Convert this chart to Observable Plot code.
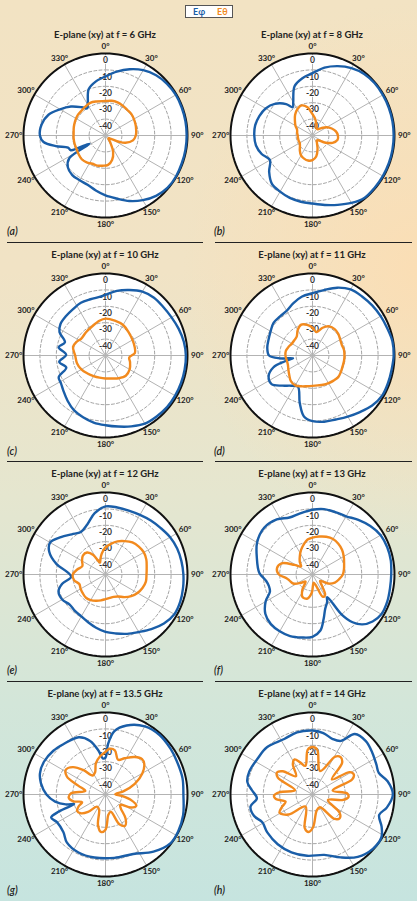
<!DOCTYPE html>
<html><head><meta charset="utf-8">
<script src="https://cdn.jsdelivr.net/npm/d3@7"></script>
<script src="https://cdn.jsdelivr.net/npm/@observablehq/plot@0.6"></script>
<style>
html,body{margin:0;padding:0;}
#page{position:relative;width:417px;height:901px;overflow:hidden;font-family:Lato,"Open Sans",sans-serif;color:#222;
background:
 radial-gradient(ellipse 75% 40% at 100% 30%, rgba(252,221,178,0.85), rgba(252,221,178,0) 75%),
 linear-gradient(180deg,#f2e3c3 0%,#f1e3c5 30%,#e5e6cf 55%,#d3e6d9 78%,#c6e4df 100%);}
.panel{position:absolute;width:210px;height:220px;}
.title{position:absolute;left:0;width:210px;top:7px;line-height:12px;text-align:center;font-weight:700;font-size:9.5px;}
.plot{position:absolute;left:0;top:8px;}
.tag{position:absolute;left:7px;top:203px;line-height:13px;font-style:italic;font-size:10.5px;font-weight:600;}
.sep{position:absolute;height:0;border-top:1px solid #222;}
#legend{position:absolute;left:185px;top:5px;width:46px;height:11px;background:#fff;border:1px solid #555;font-weight:700;font-size:9px;line-height:11px;}
</style></head>
<body><div id="page"><div id="legend"><span style="position:absolute;left:7px;color:#1a5ea8">Eφ</span><span style="position:absolute;left:31px;color:#f28a1e">Eθ</span></div></div>
<script>
// ---- data: [angle in degrees, level in dB] ----
const ePhi6 = [[0,-14],[10,-10.5],[20,-7],[30,-4],[40,-2],[50,-1],[60,-0.5],[70,-0.5],[80,-0.5],[90,-0.5],[100,-0.5],[110,-0.5],[120,-0.3],[130,-0.5],[140,-2],[150,-4.5],[160,-7.5],[170,-11],[180,-13.5],[190,-16],[200,-18],[210,-18.5],[220,-18.5],[230,-20],[238,-24],[243,-39],[247,-27],[252,-26],[258,-19],[264,-12],[270,-10],[280,-10.5],[290,-13],[300,-18],[310,-22.5],[320,-27.5],[326,-30],[332,-27],[340,-20],[350,-16.5]];
const eTheta6 = [[0,-29],[10,-28.5],[20,-28.5],[30,-29],[40,-29.5],[50,-29.5],[60,-30],[70,-30.5],[80,-31],[90,-31.5],[100,-33],[110,-37],[115,-41],[125,-47],[135,-47.5],[145,-45],[155,-39],[165,-34.5],[175,-32],[185,-31.5],[195,-31],[205,-31],[215,-30],[225,-29.5],[235,-30],[245,-30.5],[255,-30.5],[265,-30.5],[275,-30.5],[285,-30],[295,-29.5],[305,-29],[315,-29],[325,-28.5],[335,-28],[345,-28.5]];
const ePhi8 = [[0,-12],[10,-8],[20,-5],[30,-2.5],[40,-1],[50,-0.5],[60,-0.5],[70,-0.5],[80,-0.5],[90,-0.5],[100,-0.5],[110,-0.5],[120,-0.5],[130,-0.5],[140,-0.5],[150,-2.5],[160,-5],[170,-7],[180,-8.5],[190,-9],[200,-9.5],[210,-10.5],[220,-11.5],[230,-15.5],[240,-20],[250,-17],[260,-15],[270,-14.5],[280,-14.5],[290,-15.5],[300,-17],[310,-20],[320,-25],[325,-29],[330,-26.5],[340,-18],[350,-14.5]];
const eTheta8 = [[0,-37],[10,-40],[20,-43],[30,-45],[40,-45],[50,-43],[60,-40],[70,-37.5],[80,-35.5],[90,-34.5],[100,-34.5],[110,-37],[120,-41.5],[130,-45.5],[140,-46],[150,-44.5],[160,-41],[170,-37],[180,-35],[190,-34.5],[200,-35],[210,-36],[220,-38],[230,-40],[240,-41],[250,-41],[260,-41],[270,-41],[280,-40.5],[290,-40],[300,-38],[310,-36],[320,-33.5],[330,-31.5],[340,-30.5],[350,-32.5]];
const ePhi10 = [[0,-13],[10,-10],[20,-7.5],[30,-5],[40,-4],[50,-4],[60,-3.5],[70,-2.5],[80,-1.5],[90,-1],[100,-1],[110,-1],[120,-1],[130,-1],[140,-1.5],[150,-2],[160,-4],[170,-6],[180,-7.5],[190,-8.5],[200,-10],[210,-11.5],[220,-14],[230,-16.5],[238,-18],[245,-18.5],[253,-25],[262,-21.5],[271,-26],[280,-21],[288,-24],[297,-18.5],[305,-16.5],[315,-16],[325,-15.5],[335,-14.5],[345,-14.5],[355,-14]];
const eTheta10 = [[0,-27.5],[15,-28],[30,-28.5],[45,-30],[60,-31],[75,-31.5],[85,-32],[95,-35.5],[105,-34.5],[120,-33],[135,-32.5],[150,-34],[165,-35.5],[180,-36],[195,-36],[210,-35.5],[225,-34.5],[240,-33],[255,-32],[270,-31.5],[285,-29.5],[295,-30.5],[305,-32],[320,-31.5],[335,-30.5],[350,-28.5]];
const ePhi11 = [[0,-12],[10,-9.5],[20,-6],[30,-3.5],[40,-3],[50,-2.5],[60,-2],[70,-1.5],[80,-0.5],[90,-0.5],[100,-1],[110,-1],[120,-1],[130,-2.5],[140,-5],[150,-7],[160,-8.5],[170,-9],[180,-10],[188,-12.5],[195,-20],[205,-29],[215,-27.5],[225,-24],[235,-19.5],[245,-20.5],[253,-25],[258,-32.5],[262,-38],[265,-30],[270,-23.5],[280,-22],[290,-21.5],[300,-20.5],[310,-19],[320,-19],[330,-18.5],[340,-16],[350,-13.5]];
const eTheta11 = [[0,-33],[10,-35.5],[20,-32],[30,-29.5],[40,-29],[50,-29.5],[60,-30.5],[70,-31],[80,-30.5],[90,-30.5],[100,-30.5],[110,-30.5],[120,-30],[130,-29.5],[140,-30],[150,-30.5],[160,-31],[170,-31.5],[180,-31.5],[190,-31],[200,-30],[210,-29],[220,-29.5],[230,-31.5],[240,-33],[250,-34],[260,-34],[270,-33.5],[280,-33.5],[290,-34.5],[300,-35.5],[310,-35.5],[320,-35],[330,-32],[340,-30],[350,-31]];
const ePhi12 = [[0,-8.5],[10,-8.5],[20,-8.5],[30,-8],[40,-7],[50,-6],[60,-4.5],[70,-3.5],[80,-3],[90,-2.5],[100,-2],[110,-1.5],[120,-1.5],[130,-3.5],[140,-6.5],[150,-9.5],[160,-11.5],[170,-13.5],[180,-15],[190,-17],[200,-19],[210,-20.5],[220,-21],[230,-21.5],[240,-19.5],[250,-19.5],[258,-23],[266,-29],[274,-26.5],[282,-19.5],[292,-13],[300,-11],[310,-14.5],[320,-18],[330,-20],[340,-17.5],[350,-12]];
const eTheta12 = [[0,-33.5],[10,-31],[20,-28.5],[30,-26.5],[40,-24.5],[50,-23.5],[60,-23],[70,-23.5],[80,-24.5],[90,-25],[100,-25],[110,-26],[120,-27.5],[130,-29.5],[140,-32],[150,-34.5],[160,-35.5],[170,-35.5],[180,-35],[190,-34],[200,-33],[210,-32],[220,-31.5],[230,-32],[240,-32.5],[250,-33],[260,-30.5],[270,-30],[280,-32.5],[290,-35],[300,-33.5],[310,-32],[320,-32.5],[328,-36],[335,-42],[342,-40],[350,-37]];
const ePhi13 = [[0,-10.5],[10,-9.5],[20,-9.5],[30,-9],[40,-6.5],[50,-4],[60,-2],[70,-1.5],[80,-1.5],[90,-2],[100,-2],[110,-1.5],[120,-1.5],[128,-3.5],[135,-7],[140,-12],[144,-20],[147,-33.5],[152,-31],[160,-27.5],[166,-22],[172,-15.5],[180,-12],[190,-11],[200,-10],[210,-10],[220,-10.5],[230,-12.5],[240,-17],[248,-22],[255,-22.5],[262,-21.5],[272,-17.5],[287,-14.5],[300,-11],[314,-9],[327,-10],[338,-12.5],[348,-12]];
const eTheta13 = [[0,-27.5],[10,-26.5],[20,-25.5],[30,-25],[40,-25.5],[50,-26.5],[60,-28],[70,-29.5],[80,-30.5],[90,-31.5],[100,-33.5],[110,-35.5],[120,-39],[130,-44],[140,-41],[148,-35.5],[155,-35],[162,-42.5],[172,-45],[182,-39],[192,-35],[204,-35],[214,-39],[225,-44],[235,-41],[245,-37],[255,-35.5],[262,-34],[270,-29.5],[280,-28],[290,-30],[298,-37.5],[305,-41.5],[315,-39],[325,-36.5],[335,-33.5],[345,-30.5],[352,-28.5]];
const ePhi135 = [[0,-27.5],[3,-19],[8,-11],[17,-6],[30,-2],[42,-1],[55,-1.5],[65,-2],[78,-2],[90,-2.5],[105,-1],[117,-0.3],[127,-0.5],[140,-4.5],[155,-10],[172,-11],[190,-11],[205,-11],[219,-12.5],[228,-15.5],[240,-16],[247,-14],[250,-20],[253,-30],[256,-25],[262,-19],[270,-14],[280,-10],[288,-8],[298,-7.5],[310,-8.5],[320,-10],[335,-11.5],[344,-16],[351,-23],[356,-28]];
const eTheta135 = [[0,-24],[5,-22],[12,-22.5],[20,-27.5],[28,-25],[38,-21],[46,-19],[52,-20],[60,-24],[70,-31],[80,-39],[88,-44],[95,-40],[103,-33.5],[110,-30],[117,-32.5],[125,-39],[132,-37.5],[140,-31],[148,-27.5],[155,-30],[163,-39],[172,-37.5],[180,-28.5],[187,-27],[194,-31],[203,-40],[215,-41],[225,-35],[233,-31],[240,-30],[246,-32],[252,-35],[258,-30],[265,-27.5],[272,-29],[280,-37.5],[288,-32.5],[295,-24],[302,-21.5],[310,-24],[318,-30],[326,-36],[335,-35],[343,-30],[352,-26.5]];
const ePhi14 = [[0,-11],[10,-12],[20,-14],[28,-13],[35,-5],[45,-4],[55,-5.5],[65,-7],[72,-7.5],[80,-3.5],[90,-1],[100,-4],[107,-7.5],[115,-3.5],[122,-0.5],[132,-0.5],[144,-3],[156,-8],[169,-12.5],[185,-12.5],[200,-12.5],[215,-13],[230,-14],[241,-15],[250,-12],[259,-11.5],[266,-16],[274,-13],[281,-9.5],[290,-9],[303,-10],[316,-10],[333,-12],[346,-11]];
const eTheta14 = [[0,-21],[6,-22.5],[18,-35],[31,-23],[37,-21.5],[43,-23.5],[52,-35],[59,-23.5],[64,-22],[69,-24],[79,-37.5],[88,-29],[94,-28],[100,-31],[110,-40],[124,-30],[131,-28],[138,-30],[150,-41],[165,-40],[179,-30],[186,-27],[193,-29],[210,-41.5],[230,-31],[241,-27],[248,-30],[255,-33],[263,-27.5],[268,-26.5],[274,-30],[284,-39],[296,-26.5],[302,-24.5],[308,-27],[318,-35],[327,-28],[333,-26],[339,-29],[346,-32],[354,-22.5]];

const frequencies = ["6", "8", "10", "11", "12", "13", "13.5", "14"];
const panelTags = ["(a)", "(b)", "(c)", "(d)", "(e)", "(f)", "(g)", "(h)"];
const ePhiSeries = [ePhi6, ePhi8, ePhi10, ePhi11, ePhi12, ePhi13, ePhi135, ePhi14];
const eThetaSeries = [eTheta6, eTheta8, eTheta10, eTheta11, eTheta12, eTheta13, eTheta135, eTheta14];
const angleTicks = [0, 30, 60, 90, 120, 150, 180, 210, 240, 270, 300, 330];
const levelTicks = [0, -10, -20, -30, -40];
const gridLevels = [-10, -20, -30, -40];
const dbMin = -50; // centre of the polar plot

// ---- helpers ----
const rad = (a) => a * Math.PI / 180;
const rho = (db) => db - dbMin;
const px = (a, db) => rho(db) * Math.sin(rad(a));
const py = (a, db) => rho(db) * Math.cos(rad(a));
const circle = (db) => d3.range(0, 360, 3).map((a) => [a, db]);

const BLUE = "#1a5ea8", ORANGE = "#f28a1e";
const page = document.getElementById("page");
const rowTop = (r) => 22 + 219.7 * r;

function polar(blue, orange) {
  return Plot.plot({
    width: 210, height: 210, margin: 23,
    x: {domain: [-50, 50], axis: null},
    y: {domain: [-50, 50], axis: null},
    style: {background: "transparent", overflow: "visible", maxWidth: "none", fontFamily: "Lato, 'Open Sans', sans-serif"},
    marks: [
      Plot.line(circle(0), {x: (d) => px(...d), y: (d) => py(...d), fill: "white", stroke: "none", curve: "linear-closed"}),
      ...gridLevels.map((g) => Plot.line(circle(g), {x: (d) => px(...d), y: (d) => py(...d), stroke: "#8c8c8c", strokeWidth: 0.8, strokeDasharray: "3,2.2", curve: "linear-closed"})),
      Plot.link(angleTicks, {x1: 0, y1: 0, x2: (a) => px(a, 0), y2: (a) => py(a, 0), stroke: "#b3b3b3", strokeWidth: 1}),
      Plot.line(circle(0), {x: (d) => px(...d), y: (d) => py(...d), stroke: "#111", strokeWidth: 2, curve: "linear-closed"}),
      Plot.text(levelTicks, {x: 0, y: (v) => py(0, v), text: (v) => String(v), dy: 7, fontSize: 8.5, fontWeight: 700, fill: "#333", stroke: "white", strokeWidth: 1.5, paintOrder: "stroke"}),
      Plot.line(blue, {x: (d) => px(...d), y: (d) => py(...d), stroke: BLUE, strokeWidth: 2.4, curve: "catmull-rom-closed"}),
      Plot.line(orange, {x: (d) => px(...d), y: (d) => py(...d), stroke: ORANGE, strokeWidth: 2.4, curve: "catmull-rom-closed"}),
      Plot.text(angleTicks, {x: (a) => px(a, 6), y: (a) => py(a, 4.5), text: (a) => a + "°", fontSize: 8, fontWeight: 700, fill: "#222"})
    ]
  });
}

frequencies.forEach((f, i) => {
  const c = i % 2, r = Math.floor(i / 2);
  const panel = document.createElement("div");
  panel.className = "panel";
  panel.style.left = (207 * c) + "px";
  panel.style.top = rowTop(r) + "px";
  const title = document.createElement("div");
  title.className = "title";
  title.textContent = `E-plane (xy) at f = ${f} GHz`;
  panel.appendChild(title);
  const holder = document.createElement("div");
  holder.className = "plot";
  holder.appendChild(polar(ePhiSeries[i], eThetaSeries[i]));
  panel.appendChild(holder);
  const tag = document.createElement("div");
  tag.className = "tag";
  tag.textContent = panelTags[i];
  panel.appendChild(tag);
  page.appendChild(panel);
  if (r > 0) {
    const sep = document.createElement("div");
    sep.className = "sep";
    sep.style.top = rowTop(r) + "px";
    sep.style.left = (c === 0 ? 7 : 215) + "px";
    sep.style.width = (c === 0 ? 196 : 197) + "px";
    page.appendChild(sep);
  }
});
</script>
</body></html>
